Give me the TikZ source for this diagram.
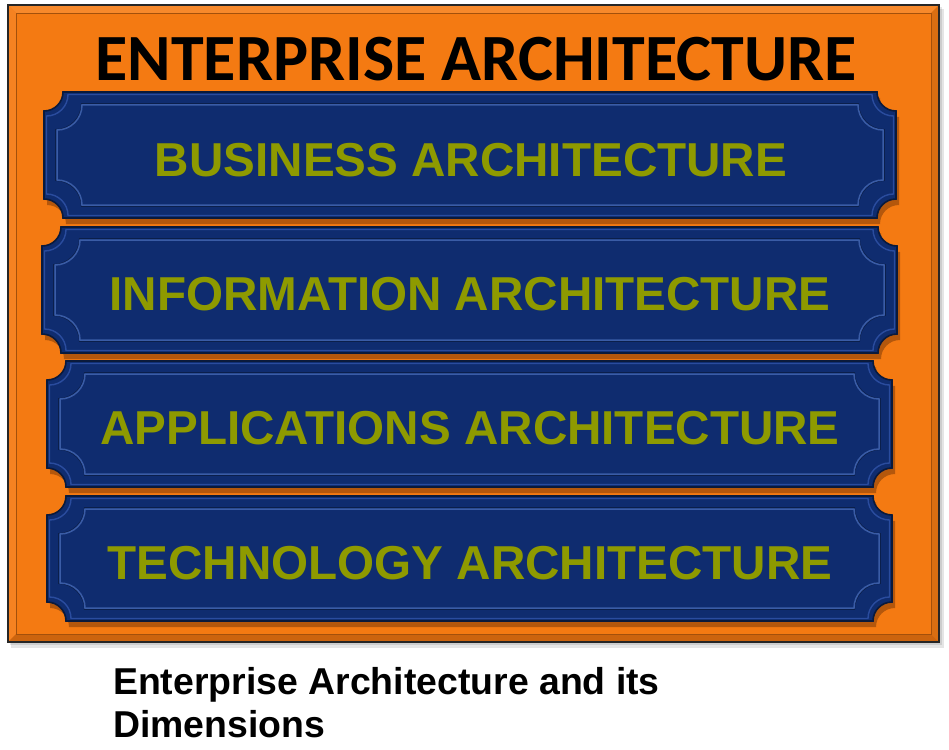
\documentclass[tikz,border=0pt]{standalone}
\usepackage{fontspec}
\setmainfont{Liberation Sans}
\newfontfamily\titlefont{Carlito}
\definecolor{orangeA}{HTML}{F47A12}
\definecolor{orangeTop}{HTML}{F7892B}
\definecolor{orangeLeft}{HTML}{F58221}
\definecolor{orangeBot}{HTML}{CC640E}
\definecolor{orangeRight}{HTML}{D96E12}
\definecolor{orangeShadow}{HTML}{A9520B}
\definecolor{plaqueBlue}{HTML}{0F2C6F}
\definecolor{plaqueRim}{HTML}{2A4C9E}
\definecolor{plaqueInner}{HTML}{3A5CA6}
\definecolor{plaqueDark}{HTML}{0A1A3C}
\definecolor{olivetext}{HTML}{8E9A00}
\newcommand\plaquepath[5]{(#1+#5,#2) -- (#3-#5,#2) arc[start angle=180,end angle=90,radius=#5] -- (#3,#4-#5) arc[start angle=270,end angle=180,radius=#5] -- (#1+#5,#4) arc[start angle=0,end angle=-90,radius=#5] -- (#1,#2+#5) arc[start angle=90,end angle=0,radius=#5] -- cycle}
\newcommand\drawplaque[4]{%
  \fill[orangeShadow,opacity=0.85] [shift={(3,6)}] \plaquepath{#1}{#2}{#3}{#4}{19};
  \fill[plaqueBlue,draw=plaqueDark,line width=1.6pt] \plaquepath{#1}{#2}{#3}{#4}{19};
  \draw[plaqueRim,line width=1.4pt] \plaquepath{#1+2.5}{#2+2.5}{#3-2.5}{#4-2.5}{21.5};
  \draw[plaqueDark,line width=0.9pt,opacity=0.7] \plaquepath{#1+11.5}{#2+11.5}{#3-11.5}{#4-11.5}{26};
  \draw[plaqueInner,line width=1.5pt] \plaquepath{#1+13}{#2+13}{#3-13}{#4-13}{25};
}
\tikzset{
  layertext/.style={text=olivetext,font=\fontsize{47.6}{50}\selectfont\bfseries,inner sep=0pt,anchor=base},
  titletext/.style={text=black,font=\titlefont\fontsize{66}{70}\selectfont\bfseries,inner sep=0pt,anchor=base},
  captiontext/.style={text=black,font=\fontsize{37.4}{43}\selectfont\bfseries,inner sep=0pt,anchor=north west,align=left}
}
\begin{document}
\begin{tikzpicture}[x=1pt,y=-1pt]
\useasboundingbox (0,0) rectangle (949,749);
\fill[white] (0,0) rectangle (949,749);
% frame drop shadow
\fill[black,opacity=0.10] (11,9) rectangle (944,648);
\fill[black,opacity=0.10] (10,7) rectangle (942,645);
% frame
\fill[orangeA] (8,5) rectangle (939,642);
\fill[orangeTop] (8,5) -- (939,5) -- (931,13) -- (16,13) -- cycle;
\fill[orangeLeft] (8,5) -- (16,13) -- (16,634) -- (8,642) -- cycle;
\fill[orangeBot] (8,642) -- (16,634) -- (931,634) -- (939,642) -- cycle;
\fill[orangeRight] (939,5) -- (931,13) -- (931,634) -- (939,642) -- cycle;
\draw[orangeBot!80!black,line width=0.8pt] (16,13) rectangle (931,634);
\draw[black!85,line width=1.5pt] (8,5) rectangle (939,642);
% title
\node[titletext] (title) at (476,81) {ENTERPRISE ARCHITECTURE};
% plaques
\drawplaque{44}{92}{896}{218}
\drawplaque{42}{227}{897}{353}
\drawplaque{47}{361}{892}{487}
\drawplaque{47}{496}{892}{621}
\node[layertext] (business) at (471,176) {BUSINESS ARCHITECTURE};
\node[layertext] (information) at (470,310) {INFORMATION ARCHITECTURE};
\node[layertext] (applications) at (470,444) {APPLICATIONS ARCHITECTURE};
\node[layertext] (technology) at (470,579) {TECHNOLOGY ARCHITECTURE};
% caption
\node[captiontext] (caption) at (113,667) {Enterprise Architecture and its\\Dimensions};
\end{tikzpicture}
\end{document}
